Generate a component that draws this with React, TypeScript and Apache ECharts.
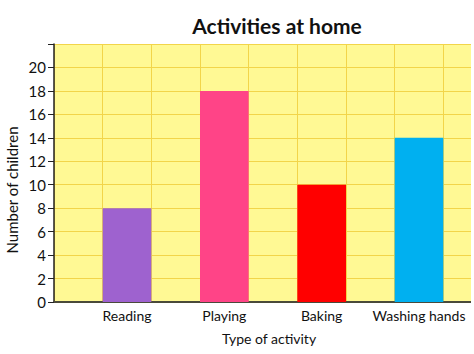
import React, { useEffect, useRef } from "react";
import * as echarts from "echarts";

const categories = ["Reading", "Playing", "Baking", "Washing hands"];
const values = [8, 18, 10, 14];
const barColors = ["#9e62cf", "#ff4487", "#ff0000", "#00b0f0"];
const yTicks = [0, 2, 4, 6, 8, 10, 12, 14, 16, 18, 20];

const FONT = "Lato";

export default function App() {
  const ref = useRef<HTMLDivElement>(null);
  useEffect(() => {
    if (!ref.current) return;
    const chart = echarts.init(ref.current, undefined, { renderer: "svg" });
    // 9 bands: a gap band before each category and one after the last
    const bands: string[] = [];
    const barData: any[] = [];
    categories.forEach((c, i) => {
      bands.push("");
      barData.push("-");
      bands.push(c);
      barData.push({ value: values[i], itemStyle: { color: barColors[i] } });
    });
    bands.push("");
    barData.push("-");

    chart.setOption({
      animation: false,
      backgroundColor: "#ffffff",
      title: {
        text: "Activities at home",
        left: 272,
        textAlign: "center",
        top: 10,
        textStyle: { fontFamily: FONT, fontWeight: "bold", fontSize: 21, color: "#111" },
      },
      grid: {
        left: 54,
        top: 44,
        bottom: 52,
        right: 0,
        show: true,
        backgroundColor: "#fff994",
        borderWidth: 0,
      },
      xAxis: {
        type: "category",
        data: bands,
        boundaryGap: true,
        axisLine: { show: true, lineStyle: { color: "#4a4a3a", width: 2 } },
        axisTick: { show: false },
        axisLabel: {
          interval: 0,
          fontFamily: FONT,
          fontSize: 14,
          color: "#111",
          margin: 6,
        },
        splitLine: { show: true, interval: 0, lineStyle: { color: "#f2d54a", width: 1 } },
      },
      yAxis: {
        type: "value",
        min: 0,
        max: 22,
        interval: 2,
        axisLine: { show: true, lineStyle: { color: "#222", width: 1.5 } },
        axisTick: { show: true, length: 6, lineStyle: { color: "#222" } },
        axisLabel: {
          fontFamily: FONT,
          fontSize: 15,
          color: "#111",
          margin: 8,
          formatter: (v: number) => (yTicks.indexOf(v) >= 0 ? String(v) : ""),
        },
        splitLine: { show: true, lineStyle: { color: "#f2d54a", width: 1 } },
      },
      series: [
        {
          type: "bar",
          data: barData,
          barWidth: "100%",
          barGap: "0%",
        },
      ],
      graphic: [
        {
          type: "text",
          rotation: Math.PI / 2,
          x: 12,
          y: 190,
          style: {
            text: "Number of children",
            fontFamily: FONT,
            fontSize: 15,
            fill: "#111",
            align: "center",
            verticalAlign: "middle",
          },
        },
        {
          type: "text",
          x: 269,
          y: 338,
          style: {
            text: "Type of activity",
            fontFamily: FONT,
            fontSize: 14,
            fill: "#111",
            align: "center",
            verticalAlign: "middle",
          },
        },
      ],
    });
    return () => chart.dispose();
  }, []);
  return (
    <div
      style={{
        position: "fixed",
        left: 0,
        top: 0,
        width: 471,
        height: 354,
        overflow: "hidden",
      }}
    >
      <div ref={ref} style={{ width: 492, height: 354 }} />
    </div>
  );
}
